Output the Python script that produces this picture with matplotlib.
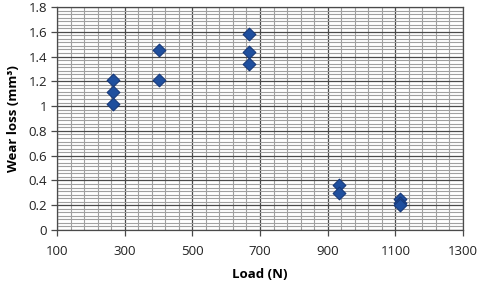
import matplotlib
matplotlib.use("Agg")
import matplotlib.pyplot as plt
from matplotlib.ticker import FixedLocator
import numpy as np

load = [265, 265, 265, 400, 400, 667, 667, 667, 934, 934, 1115, 1115, 1115]
wear = [1.21, 1.11, 1.02, 1.45, 1.21, 1.58, 1.44, 1.34, 0.36, 0.30, 0.25, 0.22, 0.20]
x_ticks = [100, 300, 500, 700, 900, 1100, 1300]
y_ticks = [0, 0.2, 0.4, 0.6, 0.8, 1, 1.2, 1.4, 1.6, 1.8]
y_tick_labels = ["0", "0.2", "0.4", "0.6", "0.8", "1", "1.2", "1.4", "1.6", "1.8"]

plt.rcParams['font.family'] = ['Open Sans', 'DejaVu Sans']

fig = plt.figure(figsize=(4.78, 2.83), dpi=100)
ax = fig.add_axes([57/478, 1-230/283, (463-57)/478, (230-7)/283])

ax.set_xlim(100, 1300)
ax.set_ylim(0, 1.8)
ax.set_xticks(x_ticks)
ax.set_xticklabels([str(v) for v in x_ticks])
ax.set_yticks(y_ticks)
ax.set_yticklabels(y_tick_labels)
ax.xaxis.set_minor_locator(FixedLocator(np.arange(100, 1300, 40)))
ax.yaxis.set_minor_locator(FixedLocator(np.arange(0, 1.8, 0.2/7)))

ax.grid(which='minor', color='#a0a0a0', linewidth=0.8)
ax.grid(which='major', color='#4a4a4a', linewidth=0.9)
ax.set_axisbelow(True)

for s in ax.spines.values():
    s.set_color('#4a4a4a')
    s.set_linewidth(0.9)

ax.tick_params(which='major', length=4, width=0.9, color='#4a4a4a', labelsize=9.5, pad=3, labelcolor='#222222')
ax.tick_params(which='minor', length=0)
ax.tick_params(axis='x', pad=7)

ax.scatter(load, wear, marker='D', s=42, facecolor='#1f4f9e', edgecolor='#17397a', linewidth=0.8, zorder=3)

ax.set_xlabel('Load (N)', fontsize=9.5, fontweight='bold', labelpad=7)
ax.set_ylabel('Wear loss (mm³)', fontsize=9.5, fontweight='bold', labelpad=6)

fig.savefig('out.png', dpi=100)
